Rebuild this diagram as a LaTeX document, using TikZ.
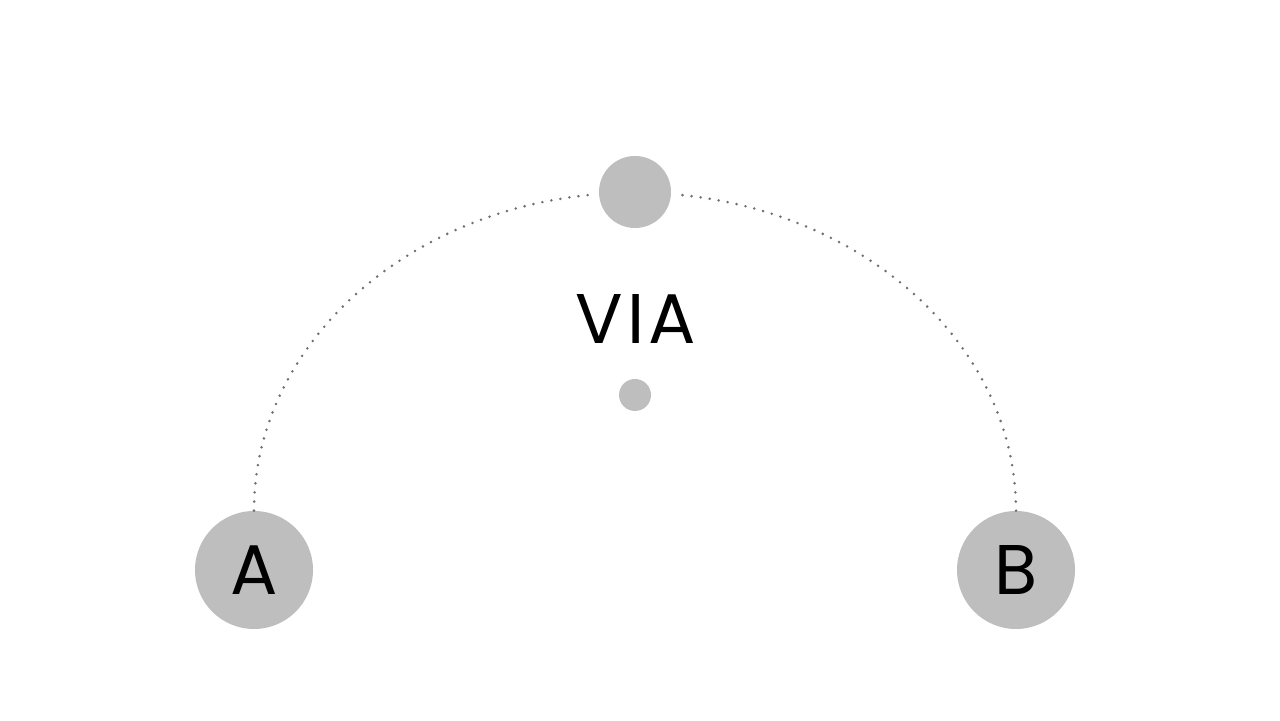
\documentclass[tikz,border=0pt]{standalone}
\usepackage{fontspec}
\setmainfont{Poppins}[LetterSpace=6]
\definecolor{dotgray}{HTML}{BEBEBE}
\definecolor{pathgray}{HTML}{707070}
\tikzset{
  town/.style={circle,fill=dotgray,inner sep=0pt,minimum size=2.36cm,font=\fontsize{40}{40}\selectfont},
  stop/.style={circle,fill=dotgray,inner sep=0pt},
  dotted path/.style={pathgray,line width=1.6pt,line cap=round,dash pattern=on 0pt off 5.2pt}
}
\begin{document}
\begin{tikzpicture}
\useasboundingbox (0,0) rectangle (25.6,14.4);
\node[town] (A) at (5.08,3.0){A};
\node[town] (B) at (20.32,3.0){B};
\draw [dotted path](A.north) arc[start angle=180,end angle=96,x radius=7.62cm,y radius=6.36cm];
\draw [dotted path](B.north) arc[start angle=0,end angle=84,x radius=7.62cm,y radius=6.36cm];
\node[stop,minimum size=1.44cm] (via) at (12.7,10.56){};
\node[font=\fontsize{40}{40}\selectfont] (label) at (12.72,8.02){VIA};
\node[stop,minimum size=0.64cm] (mid) at (12.7,6.5){};
\end{tikzpicture}
\end{document}
